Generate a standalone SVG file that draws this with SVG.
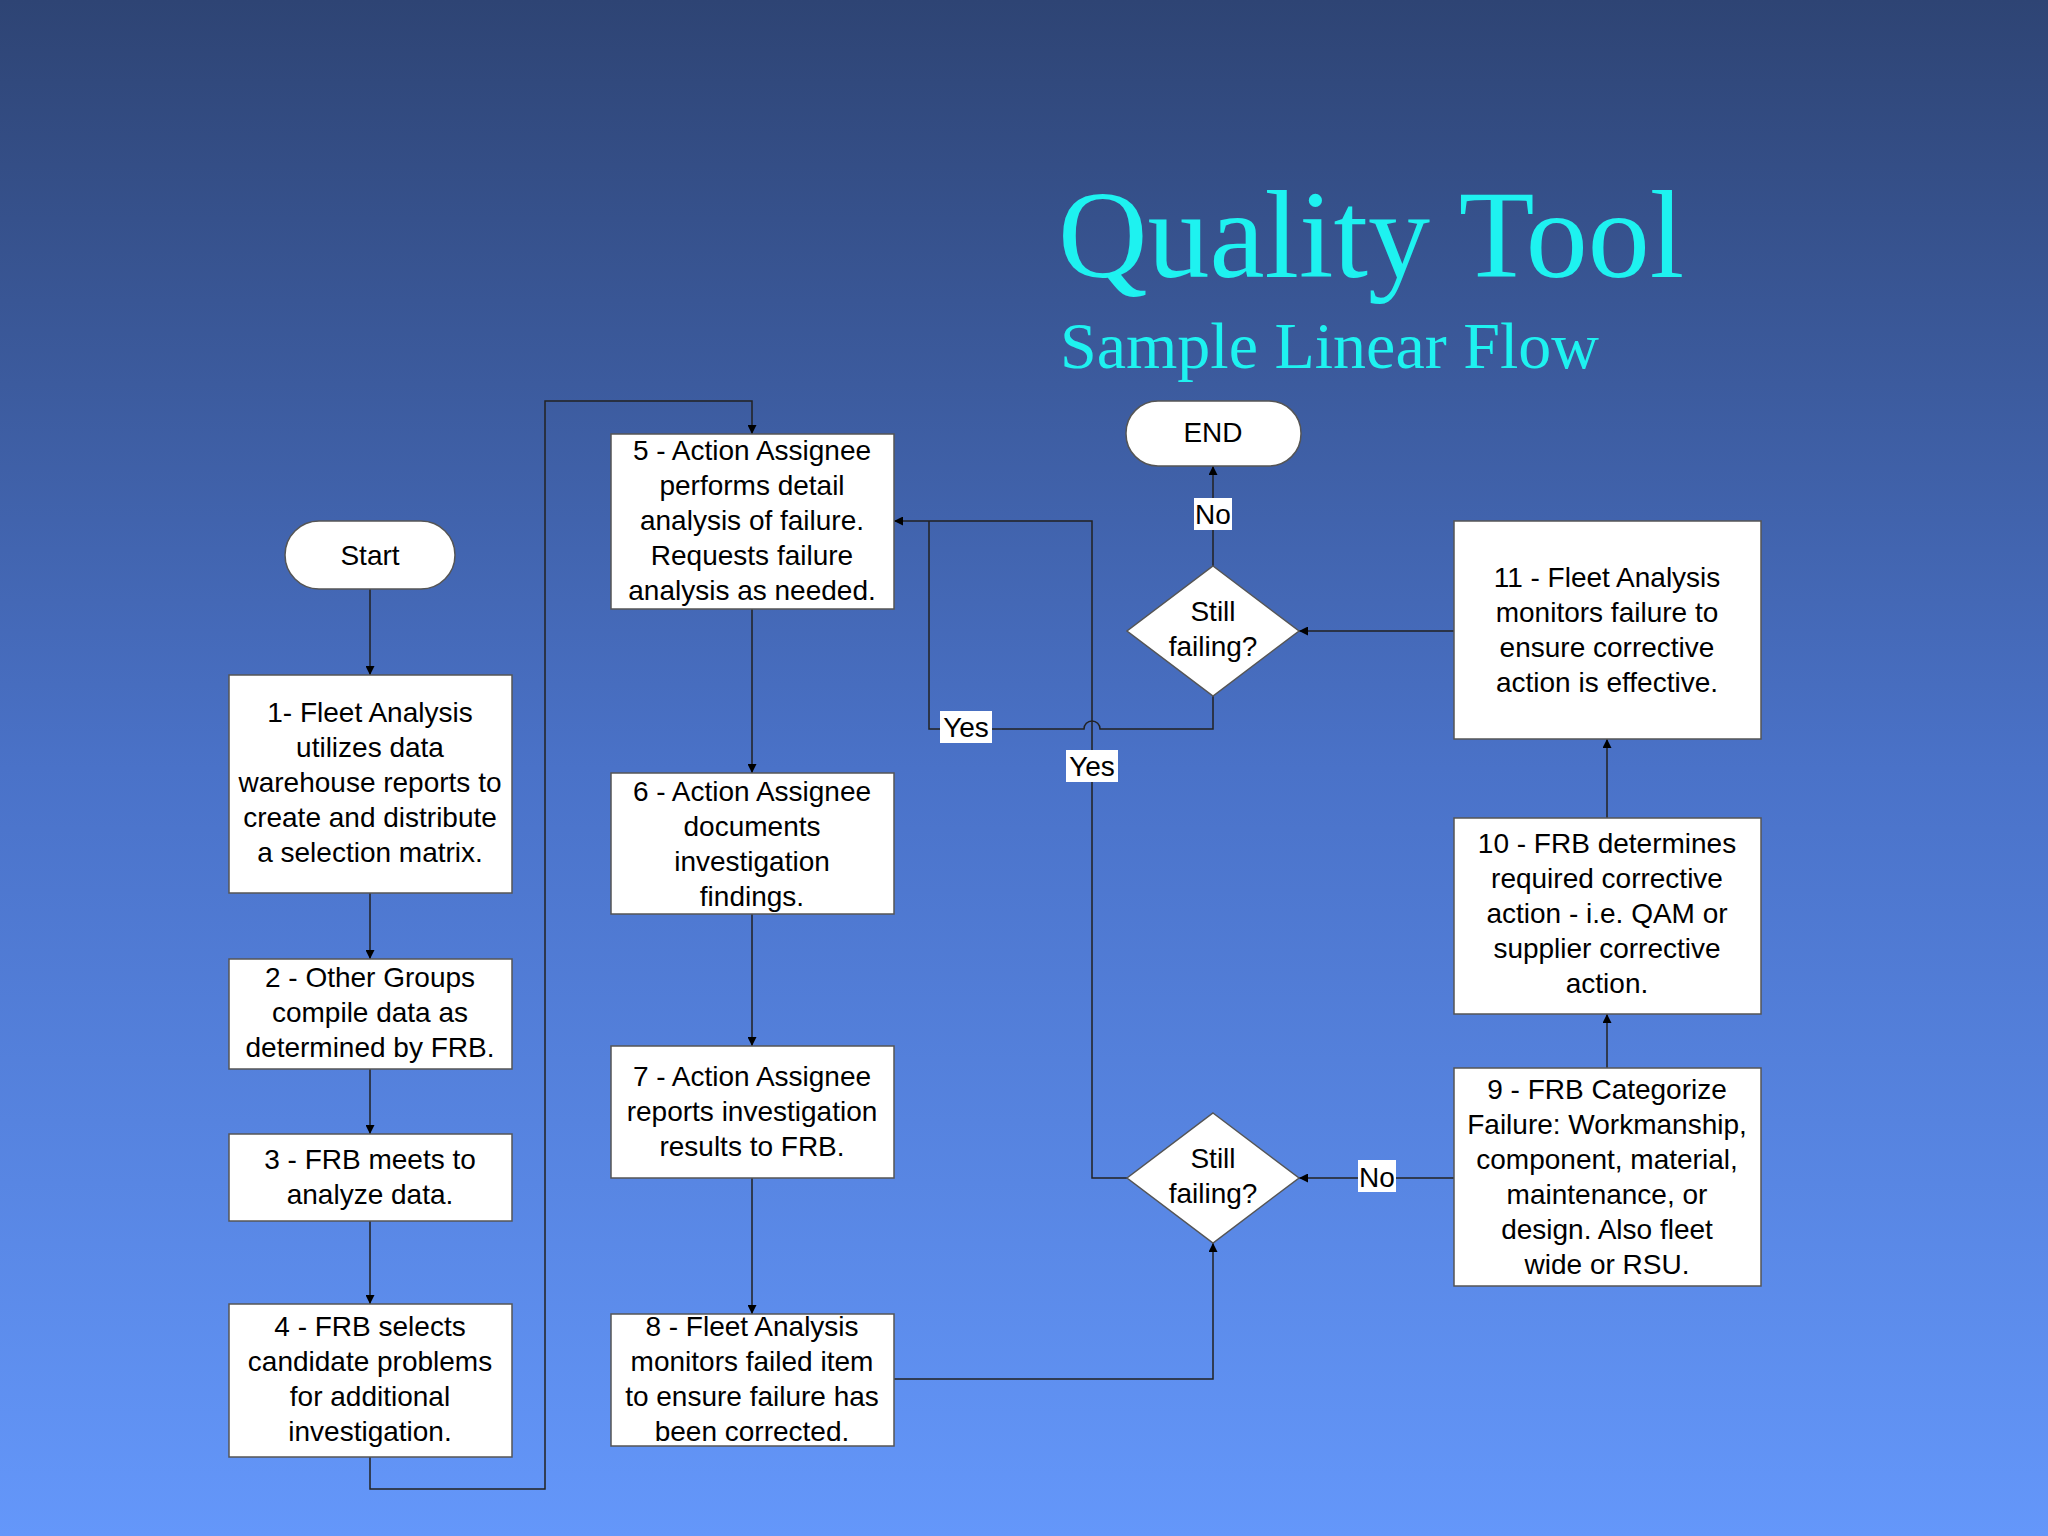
<svg xmlns="http://www.w3.org/2000/svg" width="2048" height="1536" viewBox="0 0 2048 1536">
<defs>
<linearGradient id="bg" x1="0" y1="0" x2="0" y2="1">
<stop offset="0" stop-color="#2E4474"/><stop offset="0.5" stop-color="#4A72C8"/><stop offset="1" stop-color="#6497FA"/>
</linearGradient>
<marker id="ar" viewBox="0 0 10 10" refX="10" refY="5" markerWidth="9" markerHeight="9" markerUnits="userSpaceOnUse" orient="auto"><path d="M0,0L10,5L0,10z" fill="#000"/></marker>
<style>
.b{fill:#fff;stroke:#555;stroke-width:1.5}
.t{font-family:"Liberation Sans",Arial,sans-serif;font-size:28px;fill:#000;text-anchor:middle}
.c{fill:none;stroke:#222;stroke-width:1.5;marker-end:url(#ar)}
.n{fill:none;stroke:#222;stroke-width:1.5}
.lb{fill:#fff}
.h{font-family:"Liberation Serif","Times New Roman",serif;fill:#1EF2F0}
</style>
</defs>
<rect width="2048" height="1536" fill="url(#bg)"/>
<text class="h" x="1058" y="277" font-size="124">Quality Tool</text>
<text class="h" x="1060" y="368" font-size="66">Sample Linear Flow</text>

<g id="connectors">
<path class="c" d="M370,589V675"/>
<path class="c" d="M370,893V959"/>
<path class="c" d="M370,1069V1134"/>
<path class="c" d="M370,1221V1304"/>
<path class="c" d="M370,1457V1489H545V401H752V434"/>
<path class="c" d="M752,609V773"/>
<path class="c" d="M752,914V1046"/>
<path class="c" d="M752,1178V1314"/>
<path class="c" d="M894,1379H1213V1243"/>
<path class="c" d="M1454,1178H1299"/>
<path class="c" d="M1127,1178H1092V521H894"/>
<path class="n" d="M1213,696V729H1100A8,8 0 0 0 1084,729H929V521"/>
<path class="c" d="M1213,566V466"/>
<path class="c" d="M1454,631H1299"/>
<path class="c" d="M1607,818V739"/>
<path class="c" d="M1607,1068V1014"/>
<rect class="lb" x="1358" y="1160" width="38" height="32"/><text class="t" x="1377" y="1187">No</text>
<rect class="lb" x="1066" y="750" width="52" height="32"/><text class="t" x="1092" y="776">Yes</text>
<rect class="lb" x="940" y="711" width="52" height="32"/><text class="t" x="966" y="737">Yes</text>
<rect class="lb" x="1194" y="498" width="38" height="32"/><text class="t" x="1213" y="524">No</text>
</g>

<g id="start"><rect class="b" x="285" y="521" width="170" height="68" rx="34"/><text class="t" x="370" y="565">Start</text></g>
<g id="n1"><rect class="b" x="229" y="675" width="283" height="218"/><text class="t" x="370" y="722">1- Fleet Analysis<tspan x="370" dy="35">utilizes data</tspan><tspan x="370" dy="35">warehouse reports to</tspan><tspan x="370" dy="35">create and distribute</tspan><tspan x="370" dy="35">a selection matrix.</tspan></text></g>
<g id="n2"><rect class="b" x="229" y="959" width="283" height="110"/><text class="t" x="370" y="987">2 - Other Groups<tspan x="370" dy="35">compile data as</tspan><tspan x="370" dy="35">determined by FRB.</tspan></text></g>
<g id="n3"><rect class="b" x="229" y="1134" width="283" height="87"/><text class="t" x="370" y="1169">3 - FRB meets to<tspan x="370" dy="35">analyze data.</tspan></text></g>
<g id="n4"><rect class="b" x="229" y="1304" width="283" height="153"/><text class="t" x="370" y="1336">4 - FRB selects<tspan x="370" dy="35">candidate problems</tspan><tspan x="370" dy="35">for additional</tspan><tspan x="370" dy="35">investigation.</tspan></text></g>
<g id="n5"><rect class="b" x="611" y="434" width="283" height="175"/><text class="t" x="752" y="460">5 - Action Assignee<tspan x="752" dy="35">performs detail</tspan><tspan x="752" dy="35">analysis of failure.</tspan><tspan x="752" dy="35">Requests failure</tspan><tspan x="752" dy="35">analysis as needed.</tspan></text></g>
<g id="n6"><rect class="b" x="611" y="773" width="283" height="141"/><text class="t" x="752" y="801">6 - Action Assignee<tspan x="752" dy="35">documents</tspan><tspan x="752" dy="35">investigation</tspan><tspan x="752" dy="35">findings.</tspan></text></g>
<g id="n7"><rect class="b" x="611" y="1046" width="283" height="132"/><text class="t" x="752" y="1086">7 - Action Assignee<tspan x="752" dy="35">reports investigation</tspan><tspan x="752" dy="35">results to FRB.</tspan></text></g>
<g id="n8"><rect class="b" x="611" y="1314" width="283" height="132"/><text class="t" x="752" y="1336">8 - Fleet Analysis<tspan x="752" dy="35">monitors failed item</tspan><tspan x="752" dy="35">to ensure failure has</tspan><tspan x="752" dy="35">been corrected.</tspan></text></g>
<g id="end"><rect class="b" x="1126" y="401" width="175" height="65" rx="32"/><text class="t" x="1213" y="442">END</text></g>
<g id="d1"><path class="b" d="M1213,566L1299,631L1213,696L1127,631Z"/><text class="t" x="1213" y="621">Still<tspan x="1213" dy="35">failing?</tspan></text></g>
<g id="d2"><path class="b" d="M1213,1113L1299,1178L1213,1243L1127,1178Z"/><text class="t" x="1213" y="1168">Still<tspan x="1213" dy="35">failing?</tspan></text></g>
<g id="n11"><rect class="b" x="1454" y="521" width="307" height="218"/><text class="t" x="1607" y="587">11 - Fleet Analysis<tspan x="1607" dy="35">monitors failure to</tspan><tspan x="1607" dy="35">ensure corrective</tspan><tspan x="1607" dy="35">action is effective.</tspan></text></g>
<g id="n10"><rect class="b" x="1454" y="818" width="307" height="196"/><text class="t" x="1607" y="853">10 - FRB determines<tspan x="1607" dy="35">required corrective</tspan><tspan x="1607" dy="35">action - i.e. QAM or</tspan><tspan x="1607" dy="35">supplier corrective</tspan><tspan x="1607" dy="35">action.</tspan></text></g>
<g id="n9"><rect class="b" x="1454" y="1068" width="307" height="218"/><text class="t" x="1607" y="1099">9 - FRB Categorize<tspan x="1607" dy="35">Failure: Workmanship,</tspan><tspan x="1607" dy="35">component, material,</tspan><tspan x="1607" dy="35">maintenance, or</tspan><tspan x="1607" dy="35">design.  Also fleet</tspan><tspan x="1607" dy="35">wide or RSU.</tspan></text></g>
</svg>
